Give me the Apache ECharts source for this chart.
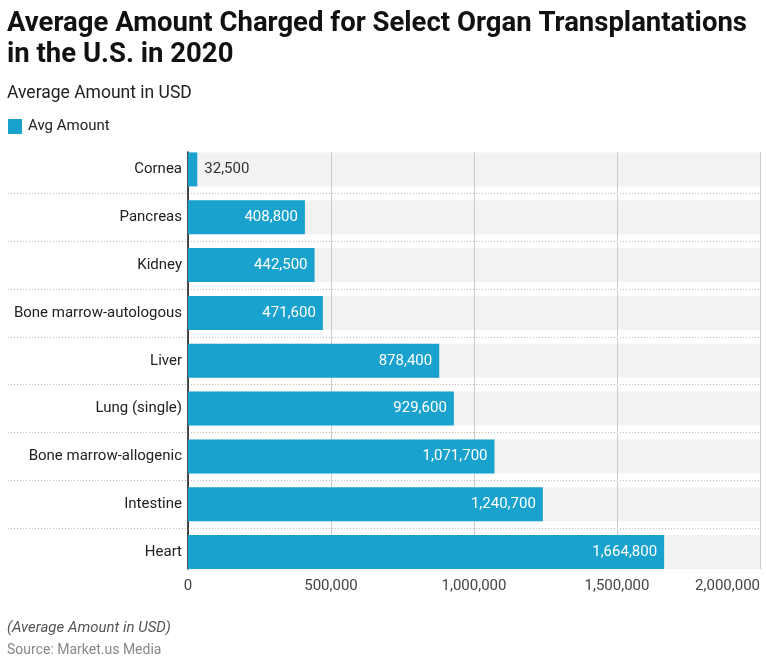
<!DOCTYPE html>
<html>
<head>
<meta charset="utf-8">
<script src="https://cdn.jsdelivr.net/npm/echarts@6/dist/echarts.min.js"></script>
<style>
html,body{margin:0;padding:0;background:#fff;}
#c{width:766px;height:665px;}
</style>
</head>
<body>
<div id="c"></div>
<script>
const categories = ["Cornea","Pancreas","Kidney","Bone marrow-autologous","Liver","Lung (single)","Bone marrow-allogenic","Intestine","Heart"];
const avgAmount = [32500,408800,442500,471600,878400,929600,1071700,1240700,1664800];
const xTicks = [0, 500000, 1000000, 1500000, 2000000];

const FONT = 'Roboto';
const BLUE = '#18a2cd';
const fmt = v => v.toLocaleString('en-US');

const chart = echarts.init(document.getElementById('c'));
chart.setOption({
  animation: false,
  textStyle: { fontFamily: FONT },
  title: [
    { text: 'Average Amount Charged for Select Organ Transplantations\nin the U.S. in 2020', left: 7, top: 9, padding: 0,
      textStyle: { fontFamily: FONT, fontSize: 27.5, fontWeight: 'bold', color: '#111', lineHeight: 31 } },
    { text: 'Average Amount in USD', left: 7, top: 85, padding: 0,
      textStyle: { fontFamily: FONT, fontSize: 17.5, fontWeight: 'normal', color: '#222' } },
    { text: '(Average Amount in USD)', left: 7, top: 621, padding: 0,
      textStyle: { fontFamily: FONT, fontSize: 15, fontStyle: 'italic', fontWeight: 'normal', color: '#555' } },
    { text: 'Source: Market.us Media', left: 7, top: 643, padding: 0,
      textStyle: { fontFamily: FONT, fontSize: 14, fontWeight: 'normal', color: '#888' } }
  ],
  legend: {
    left: 8, top: 119, padding: 0, itemWidth: 14, itemHeight: 15, itemGap: 10,
    icon: 'rect', data: ['Avg Amount'],
    textStyle: { fontFamily: FONT, fontSize: 15, color: '#222', padding: [1,0,0,1] }
  },
  grid: [
    { left: 188, right: 6, top: 145.5, height: 430.5, outerBoundsMode: 'none' },   // bars
    { left: 8, right: 6, top: 145.5, height: 430.5, outerBoundsMode: 'none' },     // separators
    { left: 188, right: 6, top: 152, height: 417, outerBoundsMode: 'none' }        // axes & gridlines
  ],
  xAxis: [
    { gridIndex: 0, type: 'value', min: 0, max: xTicks[xTicks.length-1], show: false },
    { gridIndex: 1, type: 'value', min: 0, max: 1, show: false },
    { gridIndex: 2, type: 'value', min: xTicks[0], max: xTicks[xTicks.length-1], interval: xTicks[1]-xTicks[0], z: 3,
      axisLine: { show: false }, axisTick: { show: false },
      axisLabel: { fontFamily: FONT, fontSize: 15, color: '#444', margin: 10, alignMaxLabel: 'right', formatter: v => fmt(v) },
      splitLine: { show: true, lineStyle: { color: '#cccccc', width: 1 } } }
  ],
  yAxis: [
    { gridIndex: 0, type: 'category', data: categories, inverse: true,
      axisLine: { show: false }, axisTick: { show: false }, splitLine: { show: false },
      axisLabel: { fontFamily: FONT, fontSize: 15, color: '#222', margin: 6 } },
    { gridIndex: 1, type: 'value', min: 0, max: categories.length, interval: 1,
      axisLine: { show: false }, axisTick: { show: false }, axisLabel: { show: false },
      splitLine: { show: true, showMinLine: false, showMaxLine: false, lineStyle: { color: '#bbbbbb', type: [1, 2], width: 1 } } },
    { gridIndex: 2, type: 'value', min: 0, max: 1, z: 4,
      axisLine: { show: true, onZero: false, lineStyle: { color: '#111', width: 1.5 } },
      axisTick: { show: false }, axisLabel: { show: false }, splitLine: { show: false } }
  ],
  series: [
    { name: 'bg', type: 'bar', xAxisIndex: 0, yAxisIndex: 0, data: avgAmount, barWidth: 34, z: 1, silent: true,
      itemStyle: { color: 'rgba(0,0,0,0)' }, showBackground: true,
      backgroundStyle: { color: '#f2f2f2' }, legendHoverLink: false },
    { name: 'Avg Amount', type: 'bar', xAxisIndex: 0, yAxisIndex: 0, barWidth: 34, barGap: '-100%', z: 5,
      itemStyle: { color: BLUE },
      label: { show: true, position: 'insideRight', distance: 7, color: '#fff', fontFamily: FONT, fontSize: 15,
        formatter: p => fmt(p.value) },
      data: avgAmount.map((v, i) => i === 0
        ? { value: v, label: { position: 'right', distance: 7, color: '#333' } }
        : v) }
  ]
});
</script>
</body>
</html>
